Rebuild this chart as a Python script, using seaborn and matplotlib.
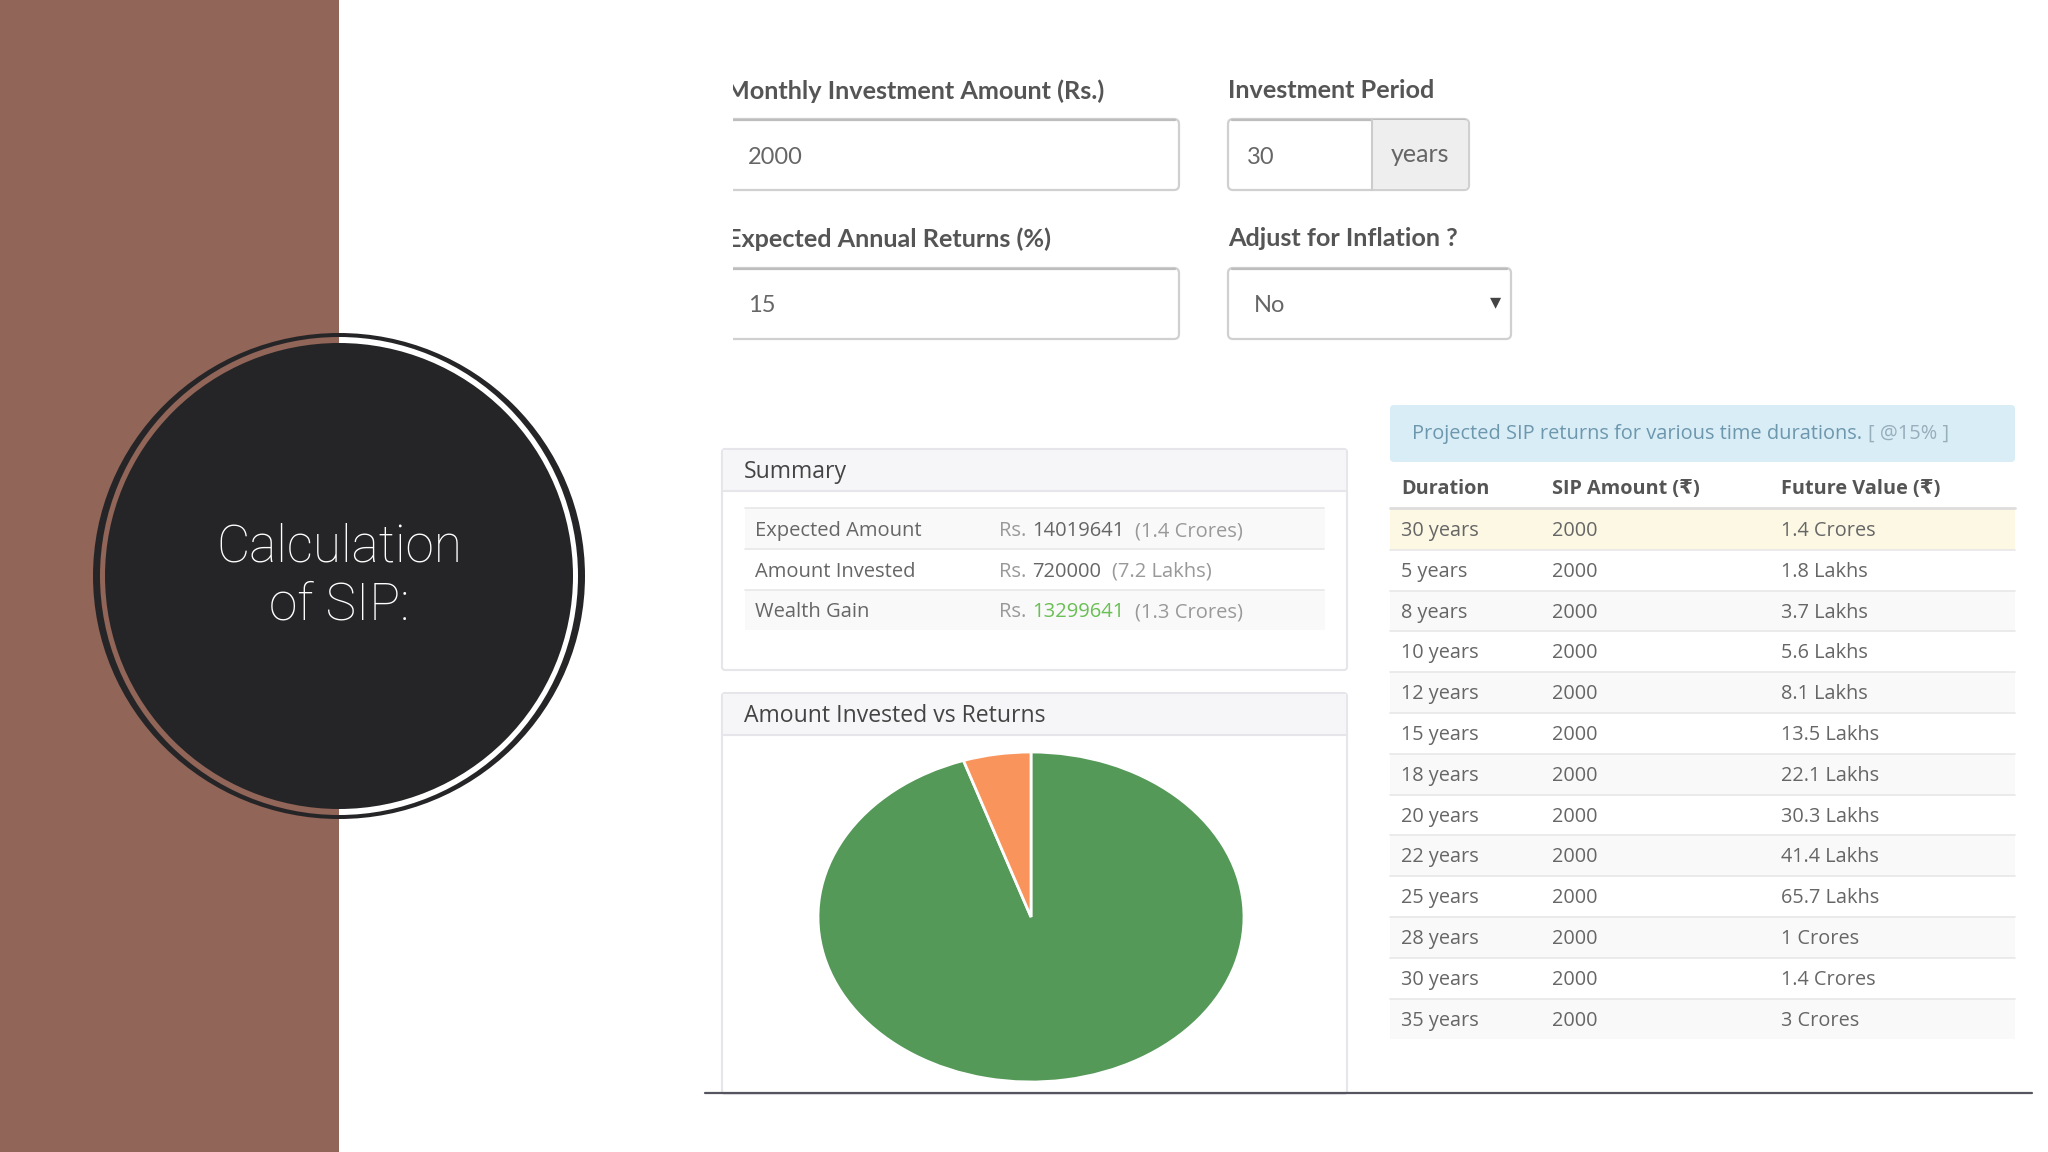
import matplotlib
matplotlib.use("Agg")
import matplotlib.pyplot as plt
import seaborn as sns
from matplotlib.patches import Rectangle, Ellipse, Wedge, FancyBboxPatch

durations = ["30 years", "5 years", "8 years", "10 years", "12 years", "15 years", "18 years",
             "20 years", "22 years", "25 years", "28 years", "30 years", "35 years"]
sip_amounts = ["2000"] * 13
future_values = ["1.4 Crores", "1.8 Lakhs", "3.7 Lakhs", "5.6 Lakhs", "8.1 Lakhs", "13.5 Lakhs", "22.1 Lakhs",
                 "30.3 Lakhs", "41.4 Lakhs", "65.7 Lakhs", "1 Crores", "1.4 Crores", "3 Crores"]
table_headers = ["Duration", "SIP Amount (₹)", "Future Value (₹)"]
summary_labels = ["Expected Amount", "Amount Invested", "Wealth Gain"]
summary_amounts = ["14019641", "720000", "13299641"]
summary_notes = ["(1.4 Crores)", "(7.2 Lakhs)", "(1.3 Crores)"]
pie_values = [13299641, 720000]
pie_colors = ["#559958", "#f9955c"]

sns.set_theme(style="white")
SANS = ["Open Sans", "DejaVu Sans"]
NARROW = ["Lato", "DejaVu Sans"]
plt.rcParams["font.family"] = SANS

fig = plt.figure(figsize=(20.48, 11.52), dpi=100, facecolor="white")
ax = fig.add_axes([0, 0, 1, 1])
ax.set_xlim(0, 2048)
ax.set_ylim(1152, 0)
ax.axis("off")

BROWN = "#916558"
DARK = "#252527"
ax.add_patch(Rectangle((0, 0), 338.5, 1152, fc=BROWN, ec="none"))
cx, cy = 339, 576
ax.add_patch(Ellipse((cx, cy), 492, 486, fc=DARK, ec="none", zorder=2))
ax.add_patch(Wedge((cx, cy), 239, -90, 90, fc="white", ec="none", zorder=3))
ax.add_patch(Wedge((cx, cy), 239, 90, 270, fc=BROWN, ec="none", zorder=3))
ax.add_patch(Ellipse((cx, cy), 468, 466, fc=DARK, ec="none", zorder=4))
for txt, y in [("Calculation", 547), ("of SIP:", 606)]:
    ax.text(cx, y, txt, color="white", fontsize=37, ha="center", va="center",
            family=["Roboto", "DejaVu Sans"], fontweight="light", zorder=5)

clip = Rectangle((733, 0), 1315, 400, transform=ax.transData)
LABEL = "#555555"
def field(x0, x1, y0, y1, clipped=False):
    p = FancyBboxPatch((x0, y0), x1 - x0, y1 - y0, boxstyle="round,pad=0,rounding_size=5",
                       fc="white", ec="#d0d0d0", lw=1.6, zorder=2)
    ax.add_patch(p)
    line, = ax.plot([x0 + 4, x1 - 4], [y0 + 0.5, y0 + 0.5], color="#bdbdbd", lw=1.6, zorder=2.1)
    if clipped:
        p.set_clip_path(clip)
        line.set_clip_path(clip)
for txt, x, y, cl in [("Monthly Investment Amount (Rs.)", 726, 91, True), ("Investment Period", 1228, 91, False),
                      ("Expected Annual Returns (%)", 727, 239, True), ("Adjust for Inflation ?", 1228, 239, False)]:
    t = ax.text(x, y, txt, color=LABEL, fontsize=18.2, fontweight="bold", family=NARROW, va="center")
    if cl:
        t.set_clip_on(True)
        t.set_clip_path(clip)
field(700, 1179, 119, 190, True)
field(700, 1179, 268, 339, True)
field(1228, 1469, 119, 190)
ax.add_patch(FancyBboxPatch((1372, 120), 96, 69, boxstyle="round,pad=0,rounding_size=4", fc="#eeeeee", ec="none", zorder=3))
ax.add_patch(Rectangle((1372, 120), 8, 69, fc="#eeeeee", lw=0, zorder=3))
ax.plot([1372, 1372], [119, 190], color="#cccccc", lw=1.5, zorder=4)
field(1228, 1511, 268, 339)
VAL = "#666666"
for txt, x, y in [("2000", 748, 158), ("15", 748, 306), ("30", 1247, 158), ("No", 1254, 306)]:
    ax.text(x, y, txt, color=VAL, fontsize=17, family=NARROW, va="center", zorder=5)
ax.text(1420, 155, "years", color=VAL, fontsize=18, family=NARROW, va="center", ha="center", zorder=5)
ax.text(1495, 302, "▾", color="#444444", fontsize=16, family=["DejaVu Sans"], va="center", ha="center", zorder=5)

BORDER = "#e6e6ea"
HEAD = "#f6f6f8"
def panel(y0, y1, head_bottom, title):
    ax.add_patch(FancyBboxPatch((722, y0), 625, y1 - y0, boxstyle="round,pad=0,rounding_size=3",
                                fc="white", ec=BORDER, lw=1.5, zorder=1))
    ax.add_patch(Rectangle((723, y0 + 1), 623, head_bottom - y0 - 1, fc=HEAD, ec="none", zorder=1))
    ax.plot([722, 1347], [head_bottom, head_bottom], color=BORDER, lw=1.5, zorder=1)
    ax.text(744, (y0 + head_bottom) / 2 + 1.5, title, color="#444444", fontsize=16.6, va="center", zorder=2)
panel(449, 670, 491, "Summary")
panel(693, 1094, 735, "Amount Invested vs Returns")

row_tops = [508, 549, 589.5, 630]
for i in range(3):
    if i != 1:
        ax.add_patch(Rectangle((745, row_tops[i]), 580, row_tops[i + 1] - row_tops[i], fc="#f9f9f9", ec="none", zorder=1))
    ax.plot([745, 1324], [row_tops[i], row_tops[i]], color="#e8e8e8", lw=1.2, zorder=1.5)
    yc = (row_tops[i] + row_tops[i + 1]) / 2 + 2.5
    ax.text(755, yc, summary_labels[i], color="#666666", fontsize=14.5, va="center", zorder=2)
    a = ax.text(999, yc, "Rs.", color="#999999", fontsize=14.5, va="center", zorder=2)
    b = ax.annotate(summary_amounts[i], xycoords=a, xy=(1, 0.5), xytext=(4, 0), textcoords="offset points",
                    color="#6abf55" if i == 2 else "#666666", fontsize=14.5, va="center", zorder=2)
    ax.annotate(summary_notes[i], xycoords=b, xy=(1, 0.5), xytext=(8, 0), textcoords="offset points",
                color="#999999", fontsize=14.5, va="center", zorder=2)

# pie: the reference squeezes it into an ellipse
pw, ph = 426, 330
pie_ax = fig.add_axes([(1031 - pw / 2) / 2048, 1 - (917 + ph / 2) / 1152, pw / 2048, ph / 1152])
pie_ax.pie(pie_values, colors=pie_colors, startangle=90, counterclock=False, radius=1,
           wedgeprops=dict(edgecolor="white", linewidth=2))
pie_ax.set_aspect("auto")
pie_ax.set_xlim(-1, 1)
pie_ax.set_ylim(-1, 1)
pie_ax.patch.set_alpha(0)

ax.plot([705, 2032], [1093, 1093], color="#555560", lw=1.6, zorder=6)

ax.add_patch(FancyBboxPatch((1390, 405), 625, 57, boxstyle="round,pad=0,rounding_size=4", fc="#d9edf7", ec="none"))
a = ax.text(1412, 434, "Projected SIP returns for various time durations.", color="#6d97ad", fontsize=14.4, va="center")
ax.annotate("[ @15% ]", xycoords=a, xy=(1, 0.5), xytext=(4, 0), textcoords="offset points",
            color="#97aebb", fontsize=14.4, va="center")

col_x = [1401, 1552, 1781]
for x, h in zip(col_x, table_headers):
    ax.text(x, 489, h, color="#555555", fontsize=14.3, fontweight="bold", va="center")
ax.plot([1390, 2015], [508, 508], color="#dddddd", lw=2)
step = 40.8
top = 509
for i in range(13):
    y0 = top + i * step
    if i == 0:
        ax.add_patch(Rectangle((1390, y0), 625, step, fc="#fcf8e3", ec="none"))
    elif i % 2 == 0:
        ax.add_patch(Rectangle((1390, y0), 625, step, fc="#f9f9f9", ec="none"))
    if i > 0:
        ax.plot([1390, 2015], [y0, y0], color="#e8e8e8", lw=1.2)
    yc = y0 + step / 2 + 1.6
    for x, v in zip(col_x, [durations[i], sip_amounts[i], future_values[i]]):
        ax.text(x, yc, v, color="#666666", fontsize=14.3, va="center")

fig.savefig("out.png", dpi=100, facecolor="white")
